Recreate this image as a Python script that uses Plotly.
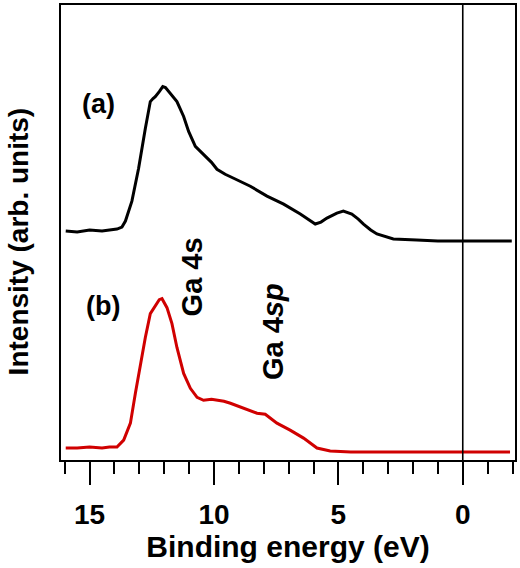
import plotly.graph_objects as go

# Binding energy (eV) and intensity (arb. units) for spectrum (a)
energy_a = [15.96, 15.5, 15.0, 14.5, 14.2, 13.9, 13.7, 13.56, 13.3, 13.03, 12.76, 12.56, 12.45, 12.36, 12.2, 12.06,
            11.95, 11.82, 11.65, 11.49, 11.22, 11.02, 10.75, 10.42, 10.1, 9.88, 9.55, 9.21, 8.54, 7.87, 7.2,
            6.53, 6.2, 5.93, 5.7, 5.46, 5.06, 4.8, 4.46, 4.2, 3.99, 3.7, 3.45, 3.1, 2.79, 1.85, 1.0, 0.0, -1.0, -1.97]
inten_a = [230, 231, 229, 230, 229, 228, 226, 220, 200, 167, 127, 100, 97, 95, 90, 85,
           86, 90, 95, 100, 115, 130, 145, 153, 161, 168, 173, 177, 185, 195, 203,
           213, 219, 223, 221, 217, 212, 210, 213, 218, 223, 229, 233, 236, 238, 239, 240, 240, 240, 240]

# Spectrum (b)
energy_b = [15.96, 15.5, 15.0, 14.5, 14.2, 13.9, 13.63, 13.36, 13.16, 12.96, 12.76, 12.56, 12.36, 12.2, 12.09,
            11.89, 11.69, 11.49, 11.22, 10.95, 10.68, 10.42, 10.1, 9.88, 9.6, 9.34, 8.81, 8.27, 7.94,
            7.47, 6.94, 6.4, 5.86, 5.33, 4.5, 3.2, 1.5, 0.0, -1.9]
inten_b = [448, 448, 447, 448, 447, 447, 440, 423, 393, 363, 337, 313, 305, 299, 298,
           307, 323, 347, 373, 388, 397, 400, 399, 400, 401, 403, 408, 413, 414,
           423, 430, 438, 448, 451, 452, 452, 452, 452, 452]

x_ticks = [15, 10, 5, 0]

PIX_BOTTOM = 460
y_a = [PIX_BOTTOM - v for v in inten_a]
y_b = [PIX_BOTTOM - v for v in inten_b]

FONT = "Arial, Liberation Sans, sans-serif"

fig = go.Figure()
fig.add_trace(go.Scatter(x=energy_a, y=y_a, mode="lines",
                         line=dict(color="black", width=3), showlegend=False))
fig.add_trace(go.Scatter(x=energy_b, y=y_b, mode="lines",
                         line=dict(color="#d00000", width=3), showlegend=False))

fig.add_vline(x=0, line=dict(color="black", width=1.6))

fig.update_layout(
    width=520, height=568,
    margin=dict(l=61, r=4, t=3, b=108),
    paper_bgcolor="white", plot_bgcolor="white",
    font=dict(family=FONT, color="black"),
    xaxis=dict(
        range=[16.15, -2.1],
        tickvals=x_ticks,
        ticks="outside", ticklen=23, tickwidth=2, tickcolor="black",
        ticklabelstandoff=5,
        minor=dict(dtick=1, ticks="outside", ticklen=12, tickwidth=2, tickcolor="black"),
        showline=True, linecolor="black", linewidth=2, mirror=True,
        showgrid=False, zeroline=False,
        tickfont=dict(size=28, family=FONT, weight="bold"),
        title=dict(text="Binding energy (eV)", font=dict(size=30, family=FONT, weight="bold"), standoff=4),
    ),
    yaxis=dict(
        range=[0, 457],
        showticklabels=False, ticks="",
        showline=True, linecolor="black", linewidth=2, mirror=True,
        showgrid=False, zeroline=False,
    ),
)

fig.add_annotation(text="Intensity (arb. units)", xref="paper", yref="paper",
                   x=-0.093, y=0.48, xanchor="center", yanchor="middle", textangle=-90, showarrow=False,
                   font=dict(size=28, family=FONT, weight="bold"))

fig.add_annotation(text="(a)", xref="x", yref="y", x=14.65, y=PIX_BOTTOM - 102,
                   xanchor="center", yanchor="middle",
                   showarrow=False, font=dict(size=27, family=FONT, weight="bold"))
fig.add_annotation(text="(b)", xref="x", yref="y", x=14.45, y=PIX_BOTTOM - 305,
                   xanchor="center", yanchor="middle",
                   showarrow=False, font=dict(size=27, family=FONT, weight="bold"))
fig.add_annotation(text="Ga 4s", xref="x", yref="y", x=10.9, y=PIX_BOTTOM - 276,
                   xanchor="center", yanchor="middle",
                   textangle=-90, showarrow=False, font=dict(size=29, family=FONT, weight="bold"))
fig.add_annotation(text="Ga 4<i>sp</i>", xref="x", yref="y", x=7.65, y=PIX_BOTTOM - 331,
                   xanchor="center", yanchor="middle",
                   textangle=-90, showarrow=False, font=dict(size=29, family=FONT, weight="bold"))

fig.write_html("out.html", config={"displayModeBar": False},
               post_script="document.body.style.margin='0px';")
